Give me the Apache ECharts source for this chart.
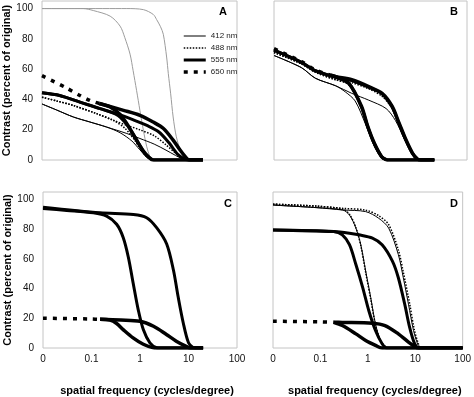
<!DOCTYPE html>
<html>
<head>
<meta charset="utf-8">
<script src="https://cdn.jsdelivr.net/npm/echarts@6/dist/echarts.min.js"></script>
<style>
  html, body { margin: 0; background: #fff; }
  #main { width: 474px; height: 397px; }
</style>
</head>
<body>
<div id="main"></div>
<script>
// tick labels
const xTicks = [0.01, 0.1, 1, 10, 100]
const yTicks = [0, 20, 40, 60, 80, 100]
const panelLetters = ['A', 'B', 'C', 'D']
const wavelengths = ['412 nm', '488 nm', '555 nm', '650 nm']

// panel A  [spatial frequency, contrast %]
const aGray1 = [[0.01,100],[0.07,100],[0.113,98.7],[0.25,95],[0.4,88.4],[0.5,80.8],[0.64,69.9],[0.74,59],[0.87,46],[1.02,32.8],[1.2,19.7],[1.41,8.7],[1.6,3],[1.8,0.3],[2.2,0]]
const aGray2 = [[0.01,100],[0.55,100],[1.2,99.3],[1.92,96.1],[2.24,92.8],[2.7,88],[3.08,83],[3.6,68],[3.9,57],[4.36,43.7],[4.9,28.4],[5.7,15.3],[7.3,4.4],[9.3,0.4],[11,0]]
const a412Large = [[0.01,37],[0.02,33],[0.044,28.4],[0.096,25.1],[0.21,21.8],[0.55,17.5],[1.02,14.2],[2,10.5],[3.5,6.5],[5.5,3],[7.5,0.8],[9.3,0],[20,0]]
const a412Small = [[0.01,37],[0.02,33],[0.044,28.4],[0.096,25.1],[0.21,21.8],[0.4,18],[0.7,12.5],[1.0,7],[1.4,2],[1.8,0],[20,0]]
const a488Large = [[0.01,41.5],[0.02,39],[0.044,36],[0.132,30.6],[0.29,26.2],[0.6,22.5],[1.0,20],[2,16],[3.5,10],[5.5,4.5],[7.5,1.2],[9.5,0],[20,0]]
const a488Small = [[0.01,41.5],[0.02,39],[0.044,36],[0.132,30.6],[0.29,26.2],[0.5,21],[0.8,13],[1.1,6],[1.5,1.5],[1.9,0],[20,0]]
const a555Large = [[0.01,44.4],[0.023,42.6],[0.06,38.2],[0.155,33.9],[0.34,30.6],[0.75,26.5],[1.5,22.5],[2.5,18.5],[4,11.5],[6,4],[8.5,0.5],[10,0],[20,0]]
const a555Small = [[0.01,44.4],[0.023,42.6],[0.06,38.2],[0.155,33.9],[0.34,30],[0.5,25],[0.75,17],[1.0,10],[1.3,4],[1.7,0.8],[2,0],[20,0]]
const a650Head = [[0.01,55.7],[0.03,48],[0.06,42.6],[0.096,39.3],[0.15,37.3]]
const a650Large = [[0.15,37.3],[0.21,36],[0.47,32.8],[1.02,29.5],[1.9,25.1],[3.1,20.8],[4.9,13.1],[6.8,6.6],[9.3,1.1],[10.5,0],[20,0]]
const a650Small = [[0.15,37.3],[0.25,35],[0.4,30],[0.6,22],[0.87,13.1],[1.2,6],[1.6,1.5],[1.9,0],[20,0]]

// panel B
const b412Large = [[0.01,69],[0.037,61],[0.072,54],[0.19,49],[0.41,44],[0.92,39.5],[2.1,34],[3.3,26],[5,14],[7,5],[9.5,0.5],[11,0],[21,0]]
const b412Small = [[0.01,69],[0.037,61],[0.072,54],[0.19,49],[0.3,45],[0.48,39],[0.78,24],[1.2,9],[1.7,1],[2,0],[21,0]]
const b488Large = [[0.01,71],[0.037,63.5],[0.072,58],[0.19,53],[0.41,51],[0.92,47],[1.74,42],[2.8,34],[3.9,23],[5.4,12.5],[7.4,4],[9.5,0.5],[11,0],[21,0]]
const b488Small = [[0.01,71],[0.037,63.5],[0.072,58],[0.19,53],[0.36,49.5],[0.65,35],[0.88,22],[1.2,11],[1.7,2],[2.1,0],[21,0]]
const b555Large = [[0.01,72.5],[0.037,64.5],[0.072,59],[0.19,54.6],[0.41,52.5],[0.92,48],[1.74,43.7],[2.8,35],[3.9,24],[5.4,13.1],[7.4,4.4],[9.5,0.5],[11,0],[21,0]]
const b555Small = [[0.01,72.5],[0.037,64.5],[0.072,59],[0.19,54.6],[0.36,50.3],[0.65,35],[0.88,21.8],[1.2,10.9],[1.7,2.2],[2.1,0.3],[2.5,0],[21,0]]
const b650Head = [[0.01,73.5],[0.037,65],[0.072,59.5],[0.15,56]]
const b650Large = [[0.15,56],[0.19,55],[0.41,53],[0.92,48.5],[1.74,44],[2.8,35.5],[3.9,24.5],[5.4,13.5],[7.4,4.6],[9.5,0.5],[11,0],[21,0]]
const b650Small = [[0.15,56],[0.19,55],[0.36,50.5],[0.65,35.5],[0.88,22],[1.2,11],[1.7,2.2],[2.1,0.3],[2.5,0],[21,0]]

// panel C
const c555Large = [[0.01,94.8],[0.15,91],[0.73,89.9],[1.37,87.7],[2.2,81],[3.55,70],[4.9,52.3],[6.1,34.6],[7.8,16.8],[10,3.5],[12.6,0.2],[14,0],[20,0]]
const c555Small = [[0.01,93.9],[0.031,92.6],[0.109,91],[0.205,88.8],[0.33,83.3],[0.45,74.4],[0.575,61.1],[0.725,43.4],[0.92,25.7],[1.17,12.4],[1.6,3.5],[2.2,0.2],[2.6,0],[20,0]]
const c650Head = [[0.01,20.1],[0.1,19.5],[0.15,19.3]]
const c650Large = [[0.15,19.3],[0.4,18.8],[1.0,18],[1.9,14.6],[3.5,9.1],[5.6,4.6],[9.2,0.9],[11,0],[20,0]]
const c650Small = [[0.15,19.3],[0.24,18.8],[0.33,16.5],[0.45,12.4],[0.72,6.8],[1.17,2.5],[1.9,0.1],[2.2,0],[20,0]]

// panel D
const d412Large = [[0.01,96.2],[0.081,94.5],[0.295,92.9],[0.9,91.8],[1.7,87.3],[2.75,80.7],[4.4,62.9],[5.6,47.3],[7.2,29.5],[9.2,11.8],[11.5,1.8],[13,0],[100,0]]
const d412Small = [[0.01,96.2],[0.081,94.5],[0.295,92.9],[0.41,89.5],[0.56,80.7],[0.71,69.5],[0.9,51.8],[1.15,34],[1.45,16.2],[1.85,5.1],[2.35,1.1],[2.8,0],[100,0]]
const d488Large = [[0.01,96.8],[0.081,95.5],[0.295,94],[0.9,92.8],[1.7,89],[2.75,83],[4.4,66],[5.6,51],[7.6,30],[9.6,12],[12,1.8],[13.5,0],[100,0]]
const d488Small = [[0.01,96.8],[0.081,95.5],[0.295,93.5],[0.41,90],[0.56,81],[0.71,69],[0.9,51],[1.15,33],[1.45,15.5],[1.85,4.8],[2.35,1],[2.8,0],[100,0]]
const d555Large = [[0.01,79.5],[0.19,78.4],[0.41,77.3],[0.65,76.2],[1.25,74],[2.0,69.5],[3.3,58.5],[4.4,47.3],[6.0,29.5],[7.6,14],[9.7,2.9],[12,0],[100,0]]
const d555Small = [[0.01,79.5],[0.19,78.4],[0.29,76.2],[0.41,69.5],[0.56,56.2],[0.78,40.7],[1.05,25.1],[1.45,11.8],[2.0,2.9],[2.5,0],[100,0]]
const d650Head = [[0.01,18],[0.1,17.6],[0.19,17.3]]
const d650Large = [[0.19,17.3],[0.29,17.2],[1.25,16.7],[2.3,15.1],[4.4,9.5],[7.2,4],[9.7,1.1],[11.5,0],[100,0]]
const d650Small = [[0.19,17.3],[0.29,15.1],[0.56,9.5],[0.9,5.1],[1.45,1.8],[2.0,0],[100,0]]

const font = "'Liberation Sans', Arial, sans-serif"

// line looks
const grayLine = { color: '#9c9c9c', width: 1 }
const thin = { color: '#000', width: 1 }
const dotted = { color: '#000', width: 1.5, type: [1.5, 1.5] }
const thick = { color: '#000', width: 3 }
const dashed = { color: '#000', width: 3.5, type: [4, 6], cap: 'butt' }
const thickTail = { color: '#000', width: 3.5 }

const grids = [
    { left: 42, top: 1, width: 195, height: 159 },
    { left: 274, top: 1, width: 193, height: 159 },
    { left: 43, top: 192, width: 194, height: 159 },
    { left: 273, top: 192, width: 194, height: 159 }
]

const line = (panel, data, style, name) => ({
    type: 'line',
    name: name,
    xAxisIndex: panel,
    yAxisIndex: panel,
    data: data,
    symbol: 'none',
    showSymbol: false,
    smooth: 0.3,
    silent: true,
    animation: false,
    lineStyle: style
})

const series = [
    line(0, aGray1, grayLine),
    line(0, aGray2, grayLine),
    line(0, a412Large, thin, wavelengths[0]),
    line(0, a412Small, thin),
    line(0, a488Large, dotted, wavelengths[1]),
    line(0, a488Small, dotted),
    line(0, a555Large, thick, wavelengths[2]),
    line(0, a555Small, thick),
    line(0, a650Head, dashed, wavelengths[3]),
    line(0, a650Large, thickTail),
    line(0, a650Small, thickTail),

    line(1, b412Large, thin),
    line(1, b412Small, thin),
    line(1, b488Large, dotted),
    line(1, b488Small, dotted),
    line(1, b555Large, thick),
    line(1, b555Small, thick),
    line(1, b650Head, dashed),
    line(1, b650Large, thickTail),
    line(1, b650Small, thickTail),

    line(2, c555Large, thick),
    line(2, c555Small, thick),
    line(2, c650Head, dashed),
    line(2, c650Large, thickTail),
    line(2, c650Small, thickTail),

    line(3, d412Large, thin),
    line(3, d412Small, thin),
    line(3, d488Large, dotted),
    line(3, d488Small, dotted),
    line(3, d555Large, thick),
    line(3, d555Small, thick),
    line(3, d650Head, dashed),
    line(3, d650Large, thickTail),
    line(3, d650Small, thickTail)
]

const fmtX = (v) => v < xTicks[1] / 2 ? '0' : String(+Number(v).toPrecision(2))
const fmtY = (v) => yTicks.indexOf(v) >= 0 ? String(v) : ''

const option = {
    animation: false,
    textStyle: { fontFamily: font },
    grid: grids.map(g => Object.assign({ show: true, borderColor: '#c4c4c4', borderWidth: 1, containLabel: false }, g)),
    title: panelLetters.map((t, i) => ({
        text: t,
        left: [219, 450, 224, 450][i],
        top: [6, 6, 198, 198][i],
        padding: 0,
        textStyle: { fontSize: 11, fontWeight: 'bold', color: '#000', fontFamily: font }
    })),
    legend: {
        left: 177,
        top: 27,
        orient: 'vertical',
        itemWidth: 22,
        itemHeight: 8,
        itemGap: 4,
        selectedMode: false,
        itemStyle: { opacity: 0 },
        textStyle: { fontSize: 8, color: '#222', fontFamily: font },
        data: [
            { name: wavelengths[0], lineStyle: { width: 1 } },
            { name: wavelengths[1], lineStyle: { width: 1.5 } },
            { name: wavelengths[2], lineStyle: { width: 3 } },
            { name: wavelengths[3], lineStyle: { width: 3.5 } }
        ]
    },
    xAxis: grids.map((g, i) => ({
        type: 'log',
        logBase: 10,
        gridIndex: i,
        min: xTicks[0],
        max: xTicks[xTicks.length - 1],
        axisLine: { show: false },
        axisTick: { show: false },
        splitLine: { show: false },
        axisLabel: { show: i >= 2, margin: 6, fontSize: 10, color: '#111', formatter: fmtX },
        name: i >= 2 ? 'spatial frequency (cycles/degree)' : '',
        nameLocation: 'middle',
        nameGap: 37,
        nameTextStyle: { fontSize: 11, fontWeight: 'bold', color: '#000', padding: [0, 0, 0, 14] }
    })),
    yAxis: grids.map((g, i) => ({
        type: 'value',
        gridIndex: i,
        min: 0,
        max: 105,
        interval: 20,
        axisLine: { show: false },
        axisTick: { show: false },
        splitLine: { show: false },
        axisLabel: { show: i % 2 === 0, margin: 9, fontSize: 10, color: '#111', formatter: fmtY },
        name: i % 2 === 0 ? 'Contrast (percent of original)' : '',
        nameLocation: 'middle',
        nameGap: 28,
        nameRotate: 90,
        nameTextStyle: { fontSize: 11, fontWeight: 'bold', color: '#000' }
    })),
    series: series
}

const chart = echarts.init(document.getElementById('main'))
chart.setOption(option)
</script>
</body>
</html>
